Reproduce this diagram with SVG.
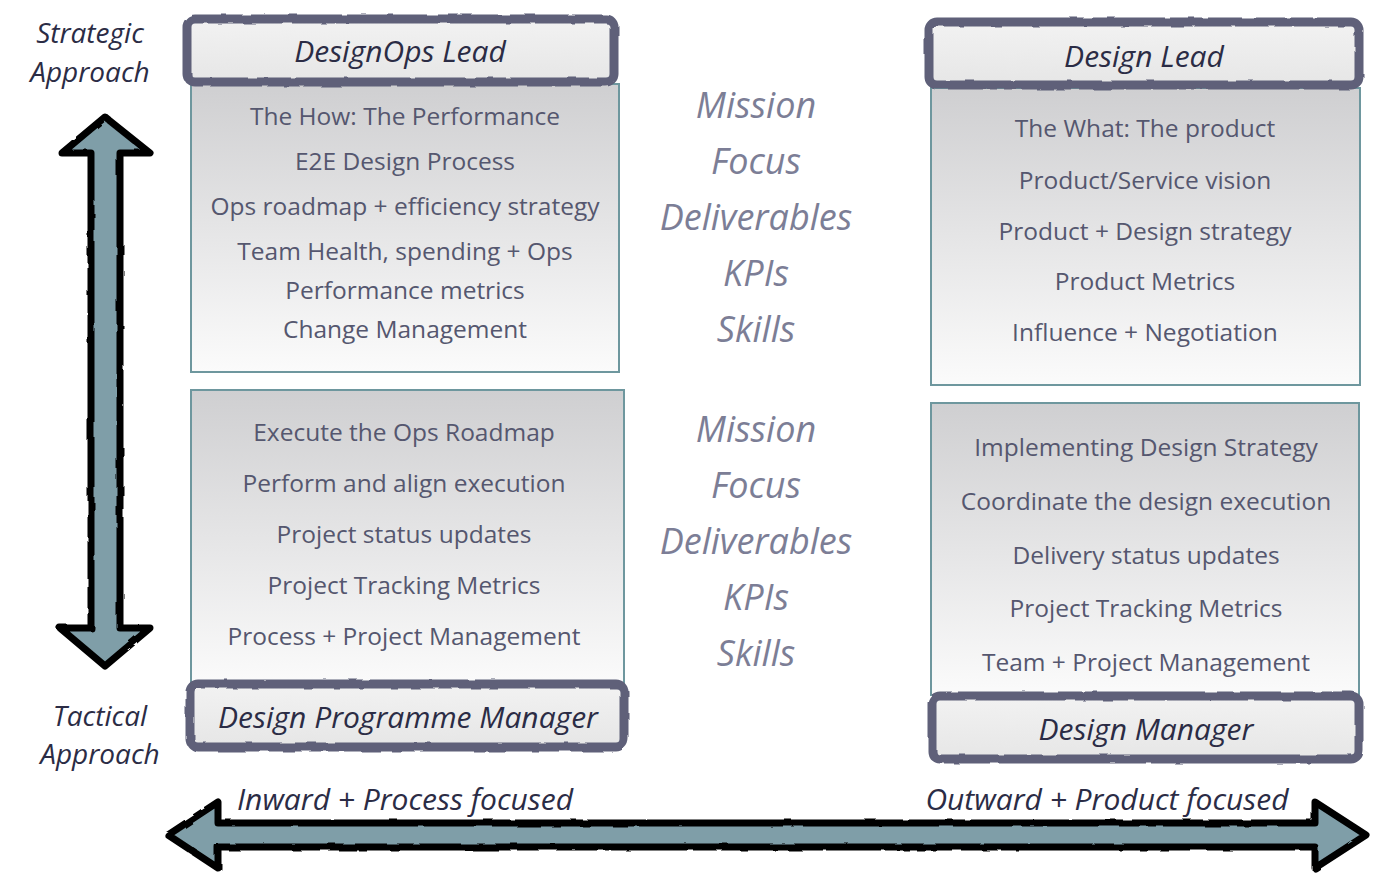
<svg xmlns="http://www.w3.org/2000/svg" width="1400" height="878" viewBox="0 0 1400 878">
<defs>
<linearGradient id="bodyGrad" x1="0" y1="0" x2="0" y2="1">
<stop offset="0" stop-color="#cfcfd1"/>
<stop offset="1" stop-color="#fbfbfb"/>
</linearGradient>
<linearGradient id="titleGrad" x1="0" y1="0" x2="0" y2="1">
<stop offset="0" stop-color="#f2f2f2"/>
<stop offset="1" stop-color="#e6e6e6"/>
</linearGradient>
<filter id="rough" x="-5%" y="-20%" width="110%" height="140%">
<feTurbulence type="fractalNoise" baseFrequency="0.05" numOctaves="2" seed="3"/>
<feDisplacementMap in="SourceGraphic" scale="3"/>
</filter>
</defs>
<style>
.body{fill:url(#bodyGrad);stroke:#6e979e;stroke-width:2}
.title{fill:url(#titleGrad);stroke:#5e6079;stroke-width:9;stroke-linejoin:round}
.tt{font-family:"Open Sans","DejaVu Sans",sans-serif;font-style:italic;font-size:30px;fill:#2b2c45;text-anchor:middle;dominant-baseline:central}
.bt{font-family:"Open Sans","DejaVu Sans",sans-serif;font-size:24.5px;fill:#55576f;text-anchor:middle;dominant-baseline:central}
.mt{font-family:"Open Sans","DejaVu Sans",sans-serif;font-style:italic;font-size:36px;fill:#7c7e96;text-anchor:middle;dominant-baseline:central}
.st{font-family:"Open Sans","DejaVu Sans",sans-serif;font-style:italic;font-size:30px;fill:#2b2c45;text-anchor:middle;dominant-baseline:central}
.sv{font-family:"Open Sans","DejaVu Sans",sans-serif;font-style:italic;font-size:28px;fill:#2b2c45;text-anchor:middle;dominant-baseline:central}
.arrow{fill:#7f9ea8;stroke:#000;stroke-width:7;stroke-linejoin:round}
</style>
<rect width="1400" height="878" fill="#ffffff"/>

<g id="connectors">
<path class="arrow" filter="url(#rough)" d="M105,117 L150,153 L120,153 L120,628 L150,628 L105,666 L60,628 L91,628 L91,153 L62,153 Z"/>
<path class="arrow" filter="url(#rough)" d="M168,835 L218,802 L218,823 L1315,823 L1315,802 L1366,835 L1315,868 L1315,847 L218,847 L218,868 Z"/>
</g>

<g id="axis-labels">
<text class="sv" x="90" y="32">Strategic</text>
<text class="sv" x="90" y="71">Approach</text>
<text class="sv" x="100" y="715">Tactical</text>
<text class="sv" x="100" y="753">Approach</text>
<text class="st" x="405" y="798">Inward + Process focused</text>
<text class="st" x="1107" y="798">Outward + Product focused</text>
</g>

<g id="node-designops-lead">
<rect class="body" x="191" y="84" width="428" height="288"/>
<rect class="title" x="187" y="19" width="427" height="63" rx="8" filter="url(#rough)"/>
<text class="tt" x="400" y="50">DesignOps Lead</text>
<text class="bt" x="405" y="115">The How: The Performance</text>
<text class="bt" x="405" y="160">E2E Design Process</text>
<text class="bt" x="405" y="205">Ops roadmap + efficiency strategy</text>
<text class="bt" x="405" y="250">Team Health, spending + Ops</text>
<text class="bt" x="405" y="289">Performance metrics</text>
<text class="bt" x="405" y="328">Change Management</text>
</g>

<g id="node-design-lead">
<rect class="body" x="931" y="88" width="429" height="297"/>
<rect class="title" x="929" y="22" width="430" height="63" rx="8" filter="url(#rough)"/>
<text class="tt" x="1144" y="55">Design Lead</text>
<text class="bt" x="1145" y="127">The What: The product</text>
<text class="bt" x="1145" y="179">Product/Service vision</text>
<text class="bt" x="1145" y="230">Product + Design strategy</text>
<text class="bt" x="1145" y="280">Product Metrics</text>
<text class="bt" x="1145" y="331">Influence + Negotiation</text>
</g>

<g id="node-design-programme-manager">
<rect class="body" x="191" y="390" width="433" height="296"/>
<rect class="title" x="190" y="684" width="434" height="63" rx="8" filter="url(#rough)"/>
<text class="tt" x="408" y="716">Design Programme Manager</text>
<text class="bt" x="404" y="431">Execute the Ops Roadmap</text>
<text class="bt" x="404" y="482">Perform and align execution</text>
<text class="bt" x="404" y="533">Project status updates</text>
<text class="bt" x="404" y="584">Project Tracking Metrics</text>
<text class="bt" x="404" y="635">Process + Project Management</text>
</g>

<g id="node-design-manager">
<rect class="body" x="931" y="403" width="428" height="292"/>
<rect class="title" x="932" y="696" width="427" height="63" rx="8" filter="url(#rough)"/>
<text class="tt" x="1146" y="728">Design Manager</text>
<text class="bt" x="1146" y="446">Implementing Design Strategy</text>
<text class="bt" x="1146" y="500">Coordinate the design execution</text>
<text class="bt" x="1146" y="554">Delivery status updates</text>
<text class="bt" x="1146" y="607">Project Tracking Metrics</text>
<text class="bt" x="1146" y="661">Team + Project Management</text>
</g>

<g id="middle-labels">
<text class="mt" x="756" y="104">Mission</text>
<text class="mt" x="756" y="160">Focus</text>
<text class="mt" x="756" y="216">Deliverables</text>
<text class="mt" x="756" y="272">KPIs</text>
<text class="mt" x="756" y="328">Skills</text>
<text class="mt" x="756" y="428">Mission</text>
<text class="mt" x="756" y="484">Focus</text>
<text class="mt" x="756" y="540">Deliverables</text>
<text class="mt" x="756" y="596">KPIs</text>
<text class="mt" x="756" y="652">Skills</text>
</g>
</svg>
